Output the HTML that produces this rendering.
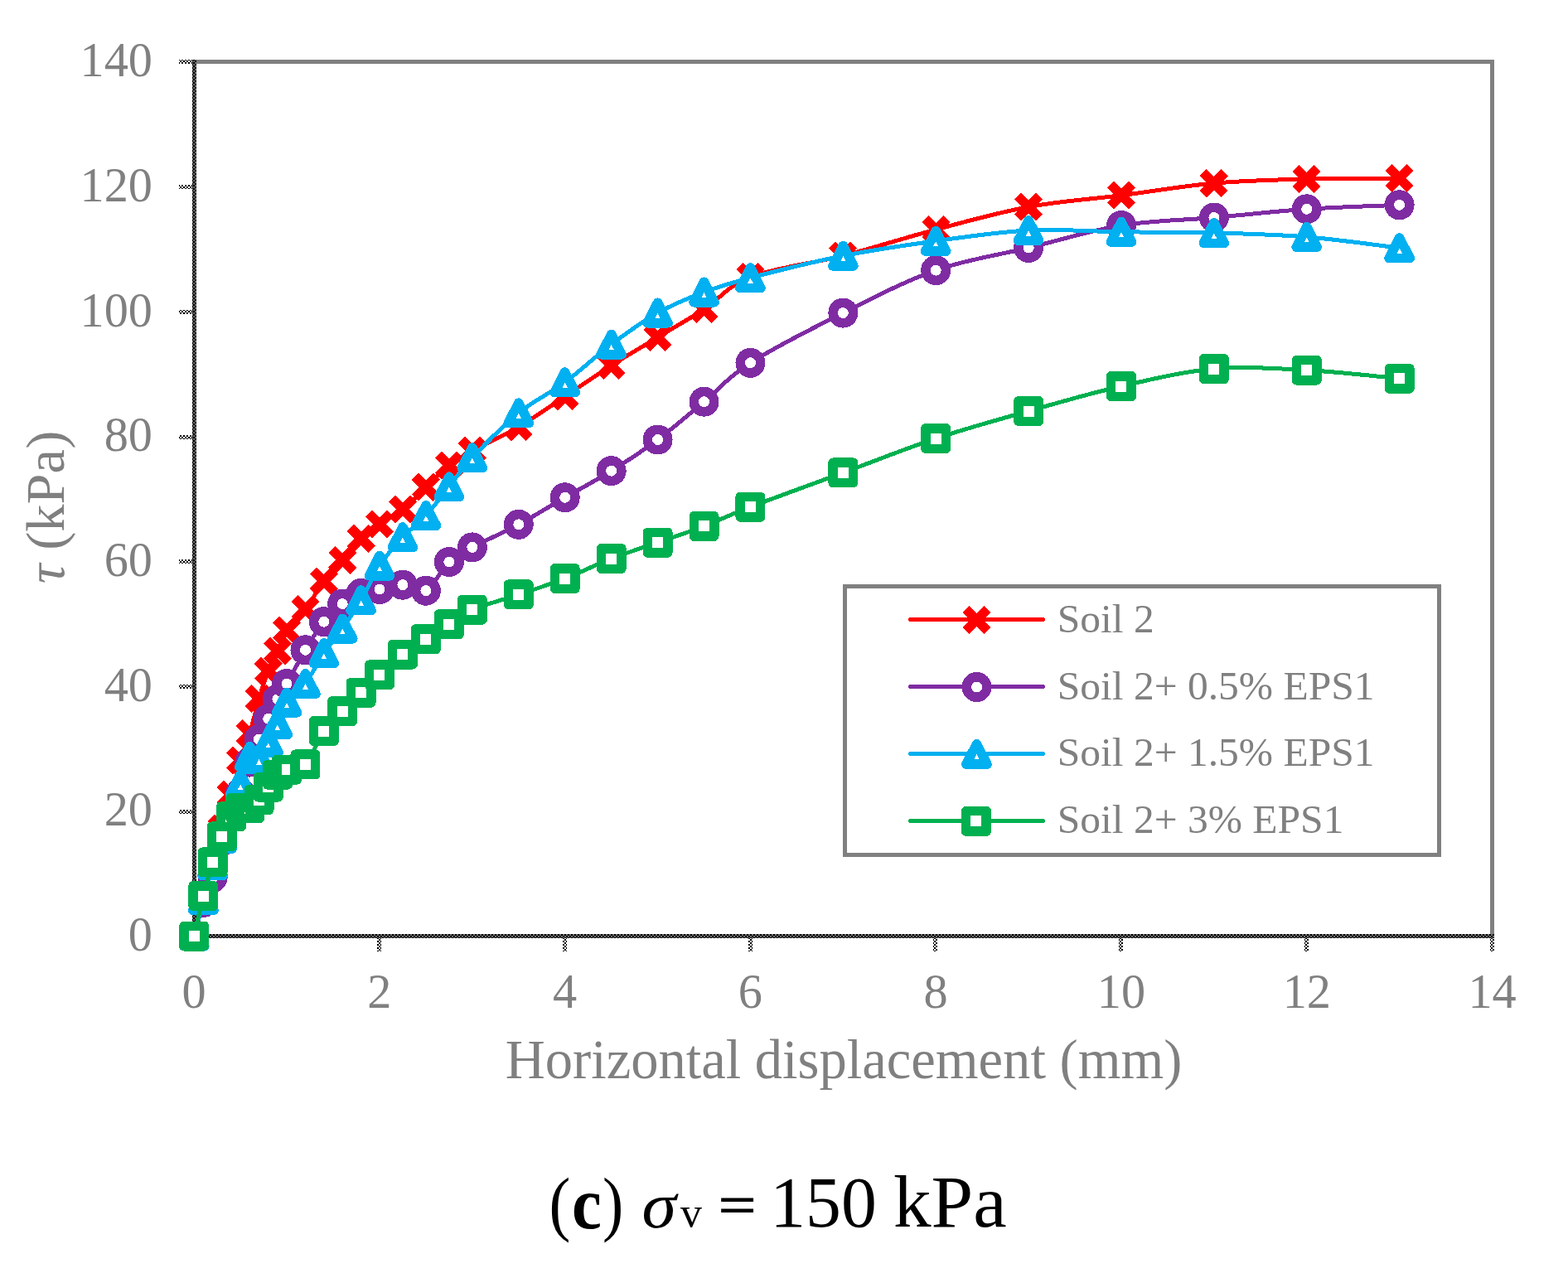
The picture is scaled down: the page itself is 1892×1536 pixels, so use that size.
<!DOCTYPE html>
<html lang="en">
<head>
<meta charset="utf-8">
<title>Shear stress vs horizontal displacement (c) 150 kPa</title>
<style>
html,body{margin:0;padding:0;background:#fff;}
body{width:1892px;height:1536px;overflow:hidden;}
svg{display:block;}
text{font-family:"Liberation Serif","DejaVu Serif",serif;}
.tick{font-size:58.3px;fill:#808080;}
.title{font-size:66.55px;fill:#808080;}
.leg{font-size:49.5px;fill:#808080;}
.cap text{fill:#000;}
.ln{fill:none;stroke-width:5.0;stroke-linecap:round;stroke-linejoin:round;}
.s-red .ln{stroke:#FF0000}.s-purple .ln{stroke:#7F2CA3}.s-blue .ln{stroke:#00B0F0}.s-green .ln{stroke:#00B050}
.mk{fill:#fff;stroke-width:11.5;stroke-linejoin:round;}.mx{fill:none;}
.s-red{color:#FF0000}.s-purple{color:#7F2CA3}.s-blue{color:#00B0F0}.s-green{color:#00B050}
</style>
</head>
<body>
<svg width="1892" height="1536" viewBox="0 0 1892 1536" role="img" aria-label="Shear stress versus horizontal displacement">

<defs>
<pattern id="axp" x="1" y="3" width="4" height="4" patternUnits="userSpaceOnUse">
<rect width="4" height="4" fill="#6c6c6c"/>
<rect x="0" y="0" width="2" height="2" fill="#000"/><rect x="2" y="2" width="2" height="2" fill="#000"/>
</pattern>
<pattern id="tkp" x="1" y="1" width="4" height="4" patternUnits="userSpaceOnUse">
<rect width="4" height="4" fill="#fff"/>
<rect x="0" y="0" width="2" height="2" fill="#000"/><rect x="2" y="2" width="2" height="2" fill="#000"/>
</pattern>
<g id="m-x"><path class="mk mx" stroke="currentColor" d="M-13 -13L13 13M-13 13L13 -13"/></g>
<g id="m-o"><circle class="mk" stroke="currentColor" fill="#fff" r="12.25"/></g>
<g id="m-t"><path class="mk" stroke="currentColor" fill="#fff" d="M0 -12.25L12.6 12.25L-12.6 12.25Z"/></g>
<g id="m-s"><rect class="mk" stroke="currentColor" fill="#fff" x="-12.25" y="-12.25" width="24.5" height="24.5"/></g>
</defs>

<g shape-rendering="crispEdges">
<rect x="232" y="72" width="1571" height="5" fill="#808080"/>
<rect x="1798" y="72" width="5" height="1060" fill="#808080"/>
<rect x="232" y="72" width="5" height="1060" fill="url(#axp)"/>
<rect x="232" y="1127" width="1571" height="5" fill="url(#axp)"/>
<rect x="216" y="72" width="16" height="5" fill="url(#tkp)"/>
<rect x="216" y="223" width="16" height="5" fill="url(#tkp)"/>
<rect x="216" y="374" width="16" height="5" fill="url(#tkp)"/>
<rect x="216" y="525" width="16" height="5" fill="url(#tkp)"/>
<rect x="216" y="675" width="16" height="5" fill="url(#tkp)"/>
<rect x="216" y="826" width="16" height="5" fill="url(#tkp)"/>
<rect x="216" y="977" width="16" height="5" fill="url(#tkp)"/>
<rect x="216" y="1127" width="16" height="5" fill="url(#tkp)"/>
<rect x="455" y="1132" width="5" height="16" fill="url(#tkp)"/>
<rect x="679" y="1132" width="5" height="16" fill="url(#tkp)"/>
<rect x="903" y="1132" width="5" height="16" fill="url(#tkp)"/>
<rect x="1126" y="1132" width="5" height="16" fill="url(#tkp)"/>
<rect x="1350" y="1132" width="5" height="16" fill="url(#tkp)"/>
<rect x="1574" y="1132" width="5" height="16" fill="url(#tkp)"/>
<rect x="1798" y="1132" width="5" height="16" fill="url(#tkp)"/>
</g>
<text class="tick" x="184" y="1147.13" text-anchor="end">0</text>
<text class="tick" x="184" y="996.44" text-anchor="end">20</text>
<text class="tick" x="184" y="845.75" text-anchor="end">40</text>
<text class="tick" x="184" y="695.06" text-anchor="end">60</text>
<text class="tick" x="184" y="544.37" text-anchor="end">80</text>
<text class="tick" x="184" y="393.68" text-anchor="end">100</text>
<text class="tick" x="184" y="242.99" text-anchor="end">120</text>
<text class="tick" x="184" y="92.3" text-anchor="end">140</text>
<text class="tick" x="234" y="1215.6" text-anchor="middle">0</text>
<text class="tick" x="457.8" y="1215.6" text-anchor="middle">2</text>
<text class="tick" x="681.6" y="1215.6" text-anchor="middle">4</text>
<text class="tick" x="905.4" y="1215.6" text-anchor="middle">6</text>
<text class="tick" x="1129.2" y="1215.6" text-anchor="middle">8</text>
<text class="tick" x="1353" y="1215.6" text-anchor="middle">10</text>
<text class="tick" x="1576.8" y="1215.6" text-anchor="middle">12</text>
<text class="tick" x="1800.6" y="1215.6" text-anchor="middle">14</text>
<text class="title" transform="translate(1018 1300.6) scale(1 1.02)" text-anchor="middle">Horizontal displacement (mm)</text>
<text class="title" transform="translate(77 612) rotate(-90)" text-anchor="middle"><tspan font-style="italic">τ</tspan> (kPa)</text>
<g class="s-red" shape-rendering="crispEdges">
<path class="ln" d="M234.2 1129.5C236.06 1121.42 241.66 1095.85 245.39 1081C249.12 1066.15 252.85 1053.93 256.58 1040.4C260.31 1026.87 264.03 1013.37 267.76 999.8C271.49 986.23 275.22 972.73 278.95 959C282.68 945.27 286.41 929.75 290.14 917.4C293.87 905.05 297.6 897.25 301.33 884.9C305.06 872.55 308.79 855.85 312.51 843.3C316.24 830.75 319.97 819.25 323.7 809.6C327.43 799.95 331.16 793.62 334.89 785.4C338.62 777.18 340.48 768.67 346.08 760.3C351.67 751.93 361 745.03 368.45 735.2C375.91 725.37 383.37 711.18 390.83 701.3C398.29 691.42 405.75 684.5 413.21 675.9C420.66 667.3 428.12 656.98 435.58 649.7C443.04 642.42 449.57 638.02 457.96 632.2C466.35 626.38 476.6 622.2 485.93 614.8C495.25 607.4 504.57 596.67 513.9 587.8C523.22 578.93 532.54 568.93 541.87 561.6C551.19 554.27 555.85 551.53 569.84 543.8C583.82 536.07 607.13 526.12 625.77 515.2C644.42 504.28 663.07 490.67 681.71 478.3C700.36 465.93 719.01 452.88 737.65 441C756.3 429.12 774.95 418.3 793.59 407C812.24 395.7 830.89 385.33 849.53 373.2C868.18 361.07 877.5 344.98 905.47 334.2C933.44 323.42 980.06 318.03 1017.35 308.5C1054.64 298.97 1091.94 286.82 1129.23 277C1166.52 267.18 1203.81 256.48 1241.11 249.6C1278.4 242.72 1315.69 240.45 1352.99 235.7C1390.28 230.95 1427.57 224.38 1464.86 221.1C1502.16 217.82 1539.45 216.98 1576.74 216C1614.04 215.02 1669.97 215.33 1688.62 215.2"/>
<use href="#m-x" x="234.2" y="1129.5"/>
<use href="#m-x" x="245.39" y="1081"/>
<use href="#m-x" x="256.58" y="1040.4"/>
<use href="#m-x" x="267.76" y="999.8"/>
<use href="#m-x" x="278.95" y="959"/>
<use href="#m-x" x="290.14" y="917.4"/>
<use href="#m-x" x="301.33" y="884.9"/>
<use href="#m-x" x="312.51" y="843.3"/>
<use href="#m-x" x="323.7" y="809.6"/>
<use href="#m-x" x="334.89" y="785.4"/>
<use href="#m-x" x="346.08" y="760.3"/>
<use href="#m-x" x="368.45" y="735.2"/>
<use href="#m-x" x="390.83" y="701.3"/>
<use href="#m-x" x="413.21" y="675.9"/>
<use href="#m-x" x="435.58" y="649.7"/>
<use href="#m-x" x="457.96" y="632.2"/>
<use href="#m-x" x="485.93" y="614.8"/>
<use href="#m-x" x="513.9" y="587.8"/>
<use href="#m-x" x="541.87" y="561.6"/>
<use href="#m-x" x="569.84" y="543.8"/>
<use href="#m-x" x="625.77" y="515.2"/>
<use href="#m-x" x="681.71" y="478.3"/>
<use href="#m-x" x="737.65" y="441"/>
<use href="#m-x" x="793.59" y="407"/>
<use href="#m-x" x="849.53" y="373.2"/>
<use href="#m-x" x="905.47" y="334.2"/>
<use href="#m-x" x="1017.35" y="308.5"/>
<use href="#m-x" x="1129.23" y="277"/>
<use href="#m-x" x="1241.11" y="249.6"/>
<use href="#m-x" x="1352.99" y="235.7"/>
<use href="#m-x" x="1464.86" y="221.1"/>
<use href="#m-x" x="1576.74" y="216"/>
<use href="#m-x" x="1688.62" y="215.2"/>
</g>
<g class="s-purple" shape-rendering="crispEdges">
<path class="ln" d="M234.2 1129.5C236.06 1122.75 241.66 1100.75 245.39 1089C249.12 1077.25 252.85 1071.33 256.58 1059C260.31 1046.67 264.03 1027.33 267.76 1015C271.49 1002.67 275.22 994.67 278.95 985C282.68 975.33 286.41 967.9 290.14 957C293.87 946.1 297.6 930.43 301.33 919.6C305.06 908.77 308.79 900.72 312.51 892C316.24 883.28 319.97 875.37 323.7 867.3C327.43 859.23 331.16 850.65 334.89 843.6C338.62 836.55 340.48 834.88 346.08 825C351.67 815.12 361 796.77 368.45 784.3C375.91 771.83 383.37 759.48 390.83 750.2C398.29 740.92 405.75 734.3 413.21 728.6C420.66 722.9 428.12 718.93 435.58 716C443.04 713.07 449.57 712.72 457.96 711C466.35 709.28 476.6 705.42 485.93 705.7C495.25 705.98 504.57 717.32 513.9 712.7C523.22 708.08 532.54 686.72 541.87 678C551.19 669.28 555.85 667.93 569.84 660.4C583.82 652.87 607.13 642.82 625.77 632.8C644.42 622.78 663.07 611.07 681.71 600.3C700.36 589.53 719.01 579.83 737.65 568.2C756.3 556.57 774.95 544.42 793.59 530.5C812.24 516.58 830.89 500.15 849.53 484.7C868.18 469.25 877.5 455.65 905.47 437.8C933.44 419.95 980.06 396.22 1017.35 377.6C1054.64 358.98 1091.94 339.2 1129.23 326.1C1166.52 313 1203.81 308.02 1241.11 299C1278.4 289.98 1315.69 278.08 1352.99 272C1390.28 265.92 1427.57 265.78 1464.86 262.5C1502.16 259.22 1539.45 254.83 1576.74 252.3C1614.04 249.77 1669.97 248.13 1688.62 247.3"/>
<use href="#m-o" x="234.2" y="1129.5"/>
<use href="#m-o" x="245.39" y="1089"/>
<use href="#m-o" x="256.58" y="1059"/>
<use href="#m-o" x="267.76" y="1015"/>
<use href="#m-o" x="278.95" y="985"/>
<use href="#m-o" x="290.14" y="957"/>
<use href="#m-o" x="301.33" y="919.6"/>
<use href="#m-o" x="312.51" y="892"/>
<use href="#m-o" x="323.7" y="867.3"/>
<use href="#m-o" x="334.89" y="843.6"/>
<use href="#m-o" x="346.08" y="825"/>
<use href="#m-o" x="368.45" y="784.3"/>
<use href="#m-o" x="390.83" y="750.2"/>
<use href="#m-o" x="413.21" y="728.6"/>
<use href="#m-o" x="435.58" y="716"/>
<use href="#m-o" x="457.96" y="711"/>
<use href="#m-o" x="485.93" y="705.7"/>
<use href="#m-o" x="513.9" y="712.7"/>
<use href="#m-o" x="541.87" y="678"/>
<use href="#m-o" x="569.84" y="660.4"/>
<use href="#m-o" x="625.77" y="632.8"/>
<use href="#m-o" x="681.71" y="600.3"/>
<use href="#m-o" x="737.65" y="568.2"/>
<use href="#m-o" x="793.59" y="530.5"/>
<use href="#m-o" x="849.53" y="484.7"/>
<use href="#m-o" x="905.47" y="437.8"/>
<use href="#m-o" x="1017.35" y="377.6"/>
<use href="#m-o" x="1129.23" y="326.1"/>
<use href="#m-o" x="1241.11" y="299"/>
<use href="#m-o" x="1352.99" y="272"/>
<use href="#m-o" x="1464.86" y="262.5"/>
<use href="#m-o" x="1576.74" y="252.3"/>
<use href="#m-o" x="1688.62" y="247.3"/>
</g>
<g class="s-blue" shape-rendering="crispEdges">
<path class="ln" d="M234.2 1129.5C236.06 1122.25 241.66 1100.2 245.39 1086C249.12 1071.8 252.85 1056.67 256.58 1044.3C260.31 1031.93 264.03 1022.52 267.76 1011.8C271.49 1001.08 275.22 990.95 278.95 980C282.68 969.05 286.41 957.27 290.14 946.1C293.87 934.93 297.6 918 301.33 913C305.06 908 308.79 918.95 312.51 916.1C316.24 913.25 319.97 902.88 323.7 895.9C327.43 888.92 331.16 882.27 334.89 874.2C338.62 866.13 340.48 855.7 346.08 847.5C351.67 839.3 361 834.92 368.45 825C375.91 815.08 383.37 799.08 390.83 788C398.29 776.92 405.75 769.12 413.21 758.5C420.66 747.88 428.12 736.97 435.58 724.3C443.04 711.63 449.57 695.18 457.96 682.5C466.35 669.82 476.6 658.28 485.93 648.2C495.25 638.12 504.57 632.13 513.9 622C523.22 611.87 532.54 599.02 541.87 587.4C551.19 575.78 555.85 567.13 569.84 552.3C583.82 537.47 607.13 513.58 625.77 498.4C644.42 483.22 663.07 475 681.71 461.2C700.36 447.4 719.01 429.55 737.65 415.6C756.3 401.65 774.95 388.02 793.59 377.5C812.24 366.98 830.89 359.55 849.53 352.5C868.18 345.45 877.5 342.5 905.47 335.2C933.44 327.9 980.06 316.1 1017.35 308.7C1054.64 301.3 1091.94 295.92 1129.23 290.8C1166.52 285.68 1203.81 279.83 1241.11 278C1278.4 276.17 1315.69 279.3 1352.99 279.8C1390.28 280.3 1427.57 279.98 1464.86 281C1502.16 282.02 1539.45 282.87 1576.74 285.9C1614.04 288.93 1669.97 296.98 1688.62 299.2"/>
<use href="#m-t" x="234.2" y="1129.5"/>
<use href="#m-t" x="245.39" y="1086"/>
<use href="#m-t" x="256.58" y="1044.3"/>
<use href="#m-t" x="267.76" y="1011.8"/>
<use href="#m-t" x="278.95" y="980"/>
<use href="#m-t" x="290.14" y="946.1"/>
<use href="#m-t" x="301.33" y="913"/>
<use href="#m-t" x="312.51" y="916.1"/>
<use href="#m-t" x="323.7" y="895.9"/>
<use href="#m-t" x="334.89" y="874.2"/>
<use href="#m-t" x="346.08" y="847.5"/>
<use href="#m-t" x="368.45" y="825"/>
<use href="#m-t" x="390.83" y="788"/>
<use href="#m-t" x="413.21" y="758.5"/>
<use href="#m-t" x="435.58" y="724.3"/>
<use href="#m-t" x="457.96" y="682.5"/>
<use href="#m-t" x="485.93" y="648.2"/>
<use href="#m-t" x="513.9" y="622"/>
<use href="#m-t" x="541.87" y="587.4"/>
<use href="#m-t" x="569.84" y="552.3"/>
<use href="#m-t" x="625.77" y="498.4"/>
<use href="#m-t" x="681.71" y="461.2"/>
<use href="#m-t" x="737.65" y="415.6"/>
<use href="#m-t" x="793.59" y="377.5"/>
<use href="#m-t" x="849.53" y="352.5"/>
<use href="#m-t" x="905.47" y="335.2"/>
<use href="#m-t" x="1017.35" y="308.7"/>
<use href="#m-t" x="1129.23" y="290.8"/>
<use href="#m-t" x="1241.11" y="278"/>
<use href="#m-t" x="1352.99" y="279.8"/>
<use href="#m-t" x="1464.86" y="281"/>
<use href="#m-t" x="1576.74" y="285.9"/>
<use href="#m-t" x="1688.62" y="299.2"/>
</g>
<g class="s-green" shape-rendering="crispEdges">
<path class="ln" d="M234.2 1129.5C236.06 1121.42 241.66 1095.85 245.39 1081C249.12 1066.15 252.85 1052.33 256.58 1040.4C260.31 1028.47 264.03 1018.57 267.76 1009.4C271.49 1000.23 275.22 991.13 278.95 985.4C282.68 979.67 286.41 976.73 290.14 975C293.87 973.27 297.6 976.67 301.33 975C305.06 973.33 308.79 969.23 312.51 965C316.24 960.77 319.97 954.65 323.7 949.6C327.43 944.55 331.16 938.18 334.89 934.7C338.62 931.22 340.48 930.75 346.08 928.7C351.67 926.65 361 930.18 368.45 922.4C375.91 914.62 383.37 892.73 390.83 882C398.29 871.27 405.75 865.72 413.21 858C420.66 850.28 428.12 842.97 435.58 835.7C443.04 828.43 449.57 822.1 457.96 814.4C466.35 806.7 476.6 796.7 485.93 789.5C495.25 782.3 504.57 777.25 513.9 771.2C523.22 765.15 532.54 759.12 541.87 753.2C551.19 747.28 555.85 741.67 569.84 735.7C583.82 729.73 607.13 723.67 625.77 717.4C644.42 711.13 663.07 705.33 681.71 698.1C700.36 690.87 719.01 681.23 737.65 674C756.3 666.77 774.95 661.22 793.59 654.7C812.24 648.18 830.89 642.07 849.53 634.9C868.18 627.73 877.5 622.45 905.47 611.7C933.44 600.95 980.06 584.17 1017.35 570.4C1054.64 556.63 1091.94 541.5 1129.23 529.1C1166.52 516.7 1203.81 506.52 1241.11 496C1278.4 485.48 1315.69 474.48 1352.99 466C1390.28 457.52 1427.57 448.33 1464.86 445.1C1502.16 441.87 1539.45 444.65 1576.74 446.6C1614.04 448.55 1669.97 455.1 1688.62 456.8"/>
<use href="#m-s" x="234.2" y="1129.5"/>
<use href="#m-s" x="245.39" y="1081"/>
<use href="#m-s" x="256.58" y="1040.4"/>
<use href="#m-s" x="267.76" y="1009.4"/>
<use href="#m-s" x="278.95" y="985.4"/>
<use href="#m-s" x="290.14" y="975"/>
<use href="#m-s" x="301.33" y="975"/>
<use href="#m-s" x="312.51" y="965"/>
<use href="#m-s" x="323.7" y="949.6"/>
<use href="#m-s" x="334.89" y="934.7"/>
<use href="#m-s" x="346.08" y="928.7"/>
<use href="#m-s" x="368.45" y="922.4"/>
<use href="#m-s" x="390.83" y="882"/>
<use href="#m-s" x="413.21" y="858"/>
<use href="#m-s" x="435.58" y="835.7"/>
<use href="#m-s" x="457.96" y="814.4"/>
<use href="#m-s" x="485.93" y="789.5"/>
<use href="#m-s" x="513.9" y="771.2"/>
<use href="#m-s" x="541.87" y="753.2"/>
<use href="#m-s" x="569.84" y="735.7"/>
<use href="#m-s" x="625.77" y="717.4"/>
<use href="#m-s" x="681.71" y="698.1"/>
<use href="#m-s" x="737.65" y="674"/>
<use href="#m-s" x="793.59" y="654.7"/>
<use href="#m-s" x="849.53" y="634.9"/>
<use href="#m-s" x="905.47" y="611.7"/>
<use href="#m-s" x="1017.35" y="570.4"/>
<use href="#m-s" x="1129.23" y="529.1"/>
<use href="#m-s" x="1241.11" y="496"/>
<use href="#m-s" x="1352.99" y="466"/>
<use href="#m-s" x="1464.86" y="445.1"/>
<use href="#m-s" x="1576.74" y="446.6"/>
<use href="#m-s" x="1688.62" y="456.8"/>
</g>
<rect x="1019.5" y="707.5" width="717" height="324" fill="#fff" stroke="#808080" stroke-width="5" shape-rendering="crispEdges"/>
<g class="s-red" shape-rendering="crispEdges"><path class="ln" d="M1098.5 747.5H1258.5"/><use href="#m-x" x="1178.5" y="748"/></g>
<text class="leg" x="1275.8" y="762.5">Soil 2</text>
<g class="s-purple" shape-rendering="crispEdges"><path class="ln" d="M1098.5 828.5H1258.5"/><use href="#m-o" x="1178.6" y="829"/></g>
<text class="leg" x="1275.8" y="843.5">Soil 2+ 0.5% EPS1</text>
<g class="s-blue" shape-rendering="crispEdges"><path class="ln" d="M1098.5 909.5H1258.5"/><use href="#m-t" x="1178.5" y="909.9"/></g>
<text class="leg" x="1275.8" y="924.4">Soil 2+ 1.5% EPS1</text>
<g class="s-green" shape-rendering="crispEdges"><path class="ln" d="M1098.5 990.5H1258.5"/><use href="#m-s" x="1177.9" y="990.8"/></g>
<text class="leg" x="1275.8" y="1005.3">Soil 2+ 3% EPS1</text>
<g class="cap">
<text transform="translate(662.51 1481.06) scale(0.904 1)" font-size="85.89">(</text>
<text transform="translate(690.07 1481.61) scale(0.9038 1)" font-size="89.38" style="font-weight:bold">c</text>
<text transform="translate(726.93 1481.06) scale(0.8822 1)" font-size="85.89">)</text>
<text transform="translate(774.47 1480.53) scale(1.0893 1)" font-size="77.33" style="font-style:italic">σ</text>
<text transform="translate(820.9 1480.2) scale(1.0427 1)" font-size="49.68">v</text>
<text transform="translate(865.92 1476.28) scale(1.2761 1)" font-size="65.56" style="font-weight:bold">=</text>
<text transform="translate(929.18 1480.33) scale(0.9812 1)" font-size="87.41">150</text>
<text transform="translate(1077.98 1480.32) scale(1.0355 1)" font-size="88">kPa</text>
</g>
</svg>
</body>
</html>
